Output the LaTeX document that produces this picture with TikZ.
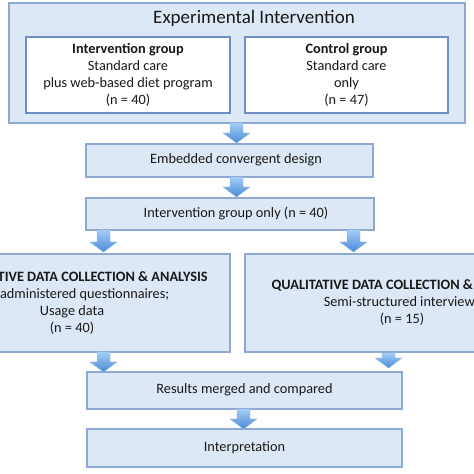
\documentclass[tikz,border=0pt]{standalone}
\usepackage{fontspec}
\setmainfont{Carlito}
\usetikzlibrary{shadows,calc}
\definecolor{boxfill}{HTML}{DDE8F6}
\definecolor{boxline}{HTML}{8DA9D4}
\definecolor{wline}{HTML}{6F8FC6}
\definecolor{arrtop}{HTML}{A4CDF6}
\definecolor{arrbot}{HTML}{4A8AD8}
\tikzset{
  bx/.style={draw=boxline, fill=boxfill, line width=1.1pt, drop shadow={opacity=0.25, shadow xshift=1pt, shadow yshift=-1.2pt}},
  wbx/.style={draw=wline, fill=white, line width=1.1pt},
  txt/.style={font=\fontsize{14.3}{17}\selectfont, align=center, text=black!90},
  blk/.style={draw=arrbot!60, line width=0.4pt, top color=arrtop, bottom color=arrbot, line join=miter},
}
% block arrow from a named top coordinate, total length #2
\newcommand\blockarrow[2]{%
  \path[blk] (#1) ++(-6.5,0) -- ++(13,0) -- ++(0,{-(#2-10)}) -- ++(7,0) -- ++(-13.5,-10) -- ++(-13.5,10) -- ++(7,0) -- cycle;}
\begin{document}
\begin{tikzpicture}[x=1pt,y=1pt]
\useasboundingbox (0,0) rectangle (474,474);
\clip (0,0) rectangle (474,474);
% outer box
\path[bx] (9,351) rectangle (465,471);
\node[font=\fontsize{19}{22}\selectfont, text=black!90] (title) at (254,456) {Experimental Intervention};
\draw[wbx] (26,361) rectangle (230,437);
\node[txt] (ig) at (128,399) {\textbf{Intervention group}\\Standard care\\plus web-based diet program\\(n = 40)};
\draw[wbx] (245,361) rectangle (448,437);
\node[txt] (cg) at (346.5,399) {\textbf{Control group}\\Standard care\\only\\(n = 47)};
% embedded
\path[bx] (86,297) rectangle (373,330);
\node[txt] (emb) at (236,314) {Embedded convergent design};
% intervention group only
\path[bx] (86,244) rectangle (374,276);
\node[txt] (igo) at (236,260) {Intervention group only (n = 40)};
% quant / qual
\path[bx] (-86,122) rectangle (230,220);
\node[txt] (quant) at (72,171) {\textbf{QUANTITATIVE DATA COLLECTION \& ANALYSIS}\\Self-administered questionnaires;\\Usage data\\(n = 40)};
\path[bx] (245,122) rectangle (559,220);
\node[txt] (qual) at (402,171) {\textbf{QUALITATIVE DATA COLLECTION \& ANALYSIS}\\Semi-structured interviews\\(n = 15)};
% results
\path[bx] (87,65) rectangle (402,102);
\node[txt] (res) at (244.5,84) {Results merged and compared};
% interpretation
\path[bx] (87,7) rectangle (402,45);
\node[txt] (int) at (244.5,26) {Interpretation};
% block arrows
\coordinate (a1) at (236.5,351);
\coordinate (a2) at (236.5,297);
\coordinate (a3) at (103.5,244);
\coordinate (a4) at (353.5,244);
\coordinate (a5) at (103.5,122);
\coordinate (a6) at (388.5,121);
\coordinate (a7) at (243.5,65);
\blockarrow{a1}{20}
\blockarrow{a2}{20}
\blockarrow{a3}{22}
\blockarrow{a4}{22}
\blockarrow{a5}{20}
\blockarrow{a6}{15}
\blockarrow{a7}{20}
\end{tikzpicture}
\end{document}
